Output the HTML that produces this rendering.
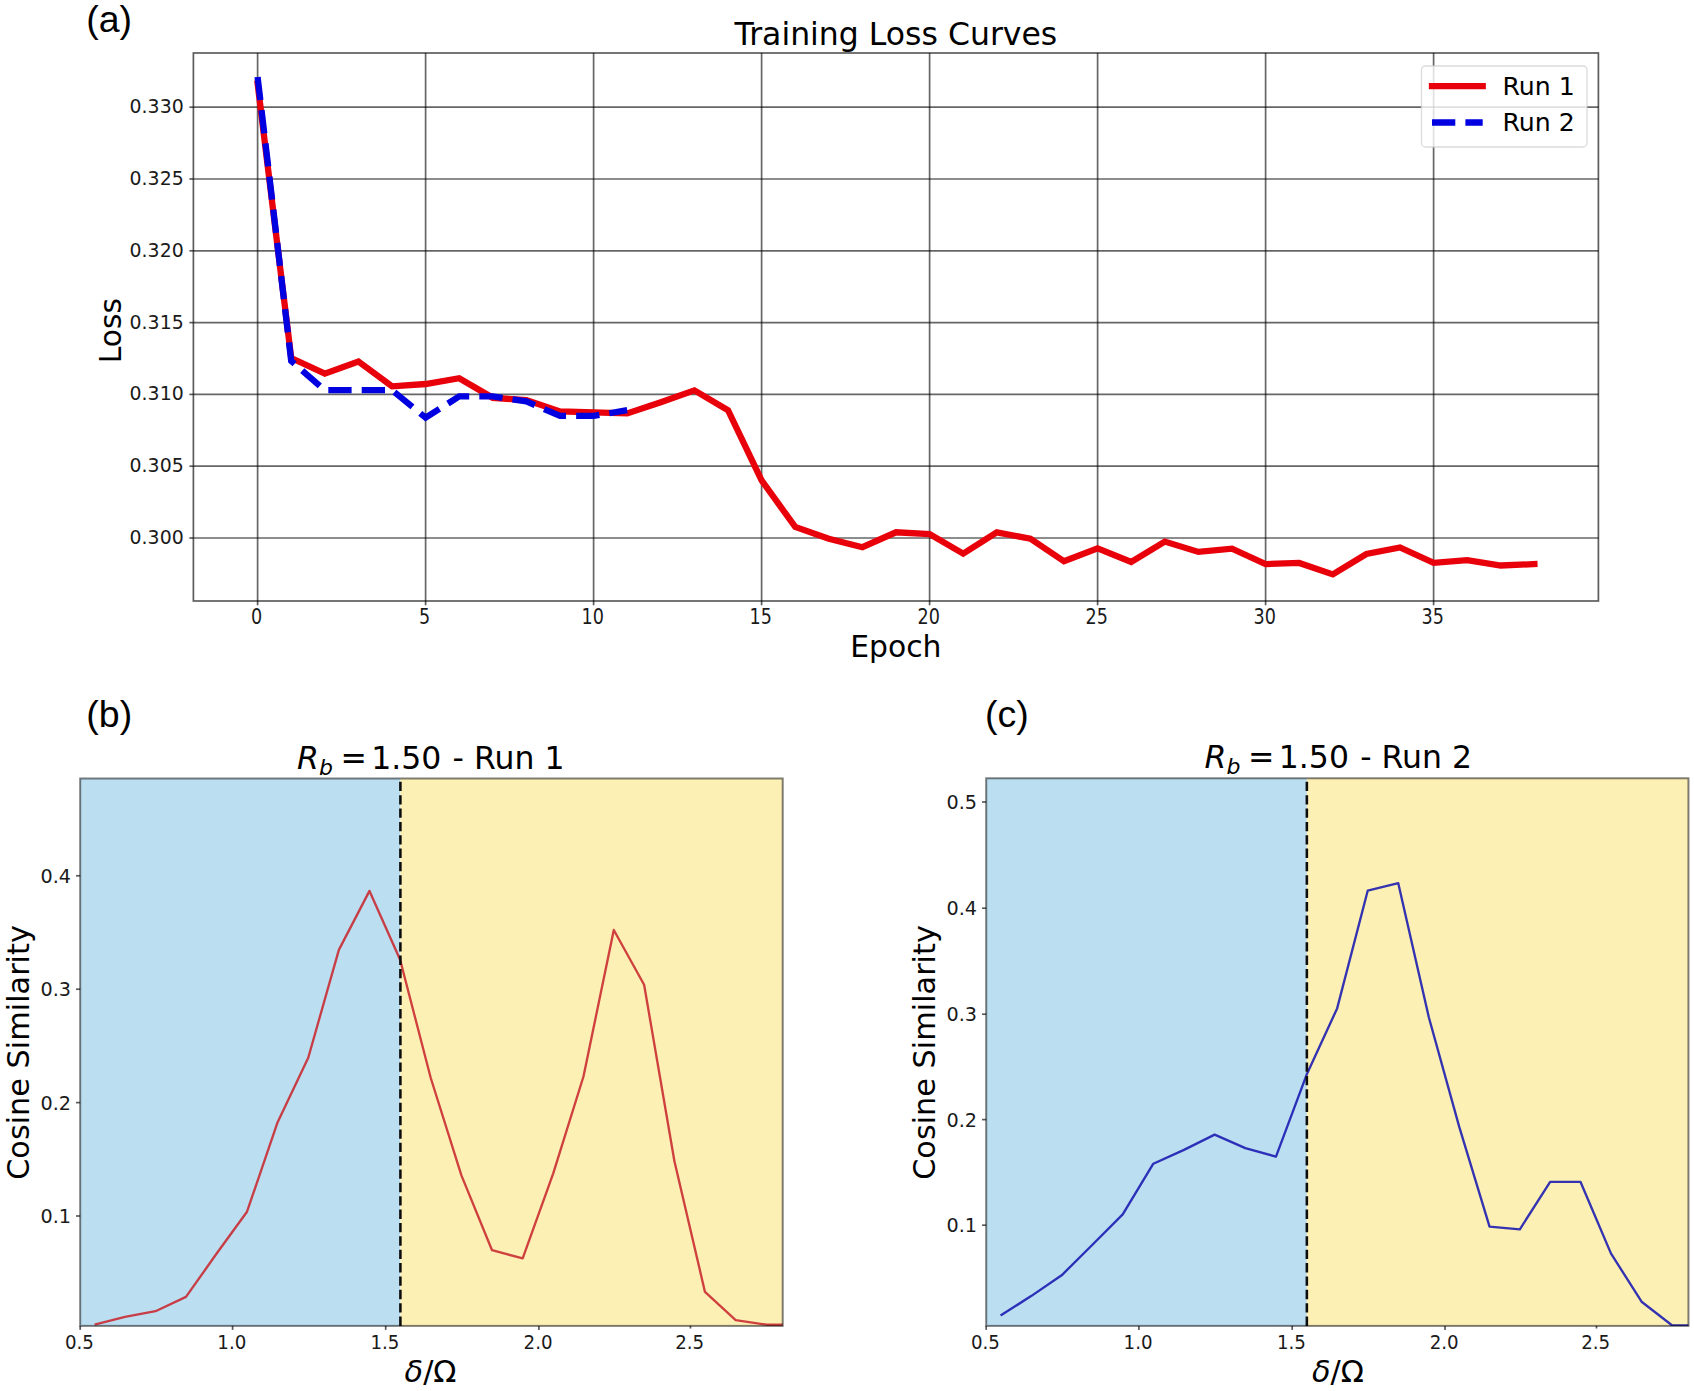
<!DOCTYPE html>
<html lang="en"><head><meta charset="utf-8"><title>Training Loss Curves</title>
<style>
html,body{margin:0;padding:0;background:#fff;}
body{width:1694px;height:1391px;overflow:hidden;}
svg{display:block;}
#fig{width:1694px;height:1391px;}
text{font-family:"DejaVu Sans","Liberation Sans",sans-serif;fill:#000;}
.tk{font-size:18.6px;fill:#1a1a1a;}
.lab{font-size:29.8px;}
.lab2{font-size:30.3px;}
.ttl{font-size:31.5px;}
.pl{font-family:"Liberation Sans","DejaVu Sans",sans-serif;font-size:37.5px;}
.it{font-style:italic;}
</style></head><body><div id="fig">
<svg width="1694" height="1391" viewBox="0 0 1694 1391">
<rect width="1694" height="1391" fill="#fff"/>
<g id="chartA">
<line x1="257.6" y1="53" x2="257.6" y2="601" stroke="#000" stroke-opacity="0.6" stroke-width="1.7"/>
<line x1="257.6" y1="601" x2="257.6" y2="605.3" stroke="#000" stroke-opacity="0.64" stroke-width="1.7"/>
<text class="tk" transform="translate(256.7,624) scale(0.83,1)" style="font-size:21.2px" text-anchor="middle">0</text>
<line x1="425.6" y1="53" x2="425.6" y2="601" stroke="#000" stroke-opacity="0.6" stroke-width="1.7"/>
<line x1="425.6" y1="601" x2="425.6" y2="605.3" stroke="#000" stroke-opacity="0.64" stroke-width="1.7"/>
<text class="tk" transform="translate(424.7,624) scale(0.83,1)" style="font-size:21.2px" text-anchor="middle">5</text>
<line x1="593.6" y1="53" x2="593.6" y2="601" stroke="#000" stroke-opacity="0.6" stroke-width="1.7"/>
<line x1="593.6" y1="601" x2="593.6" y2="605.3" stroke="#000" stroke-opacity="0.64" stroke-width="1.7"/>
<text class="tk" transform="translate(592.7,624) scale(0.83,1)" style="font-size:21.2px" text-anchor="middle">10</text>
<line x1="761.6" y1="53" x2="761.6" y2="601" stroke="#000" stroke-opacity="0.6" stroke-width="1.7"/>
<line x1="761.6" y1="601" x2="761.6" y2="605.3" stroke="#000" stroke-opacity="0.64" stroke-width="1.7"/>
<text class="tk" transform="translate(760.7,624) scale(0.83,1)" style="font-size:21.2px" text-anchor="middle">15</text>
<line x1="929.6" y1="53" x2="929.6" y2="601" stroke="#000" stroke-opacity="0.6" stroke-width="1.7"/>
<line x1="929.6" y1="601" x2="929.6" y2="605.3" stroke="#000" stroke-opacity="0.64" stroke-width="1.7"/>
<text class="tk" transform="translate(928.7,624) scale(0.83,1)" style="font-size:21.2px" text-anchor="middle">20</text>
<line x1="1097.6" y1="53" x2="1097.6" y2="601" stroke="#000" stroke-opacity="0.6" stroke-width="1.7"/>
<line x1="1097.6" y1="601" x2="1097.6" y2="605.3" stroke="#000" stroke-opacity="0.64" stroke-width="1.7"/>
<text class="tk" transform="translate(1096.7,624) scale(0.83,1)" style="font-size:21.2px" text-anchor="middle">25</text>
<line x1="1265.6" y1="53" x2="1265.6" y2="601" stroke="#000" stroke-opacity="0.6" stroke-width="1.7"/>
<line x1="1265.6" y1="601" x2="1265.6" y2="605.3" stroke="#000" stroke-opacity="0.64" stroke-width="1.7"/>
<text class="tk" transform="translate(1264.7,624) scale(0.83,1)" style="font-size:21.2px" text-anchor="middle">30</text>
<line x1="1433.6" y1="53" x2="1433.6" y2="601" stroke="#000" stroke-opacity="0.6" stroke-width="1.7"/>
<line x1="1433.6" y1="601" x2="1433.6" y2="605.3" stroke="#000" stroke-opacity="0.64" stroke-width="1.7"/>
<text class="tk" transform="translate(1432.7,624) scale(0.83,1)" style="font-size:21.2px" text-anchor="middle">35</text>
<line x1="193.4" y1="107.2" x2="1598.4" y2="107.2" stroke="#000" stroke-opacity="0.6" stroke-width="1.7"/>
<line x1="189.4" y1="107.2" x2="193.4" y2="107.2" stroke="#000" stroke-opacity="0.64" stroke-width="1.7"/>
<text class="tk" x="183.7" y="113.2" style="font-size:18.9px" text-anchor="end">0.330</text>
<line x1="193.4" y1="179" x2="1598.4" y2="179" stroke="#000" stroke-opacity="0.6" stroke-width="1.7"/>
<line x1="189.4" y1="179" x2="193.4" y2="179" stroke="#000" stroke-opacity="0.64" stroke-width="1.7"/>
<text class="tk" x="183.7" y="185" style="font-size:18.9px" text-anchor="end">0.325</text>
<line x1="193.4" y1="250.8" x2="1598.4" y2="250.8" stroke="#000" stroke-opacity="0.6" stroke-width="1.7"/>
<line x1="189.4" y1="250.8" x2="193.4" y2="250.8" stroke="#000" stroke-opacity="0.64" stroke-width="1.7"/>
<text class="tk" x="183.7" y="256.8" style="font-size:18.9px" text-anchor="end">0.320</text>
<line x1="193.4" y1="322.6" x2="1598.4" y2="322.6" stroke="#000" stroke-opacity="0.6" stroke-width="1.7"/>
<line x1="189.4" y1="322.6" x2="193.4" y2="322.6" stroke="#000" stroke-opacity="0.64" stroke-width="1.7"/>
<text class="tk" x="183.7" y="328.6" style="font-size:18.9px" text-anchor="end">0.315</text>
<line x1="193.4" y1="394.4" x2="1598.4" y2="394.4" stroke="#000" stroke-opacity="0.6" stroke-width="1.7"/>
<line x1="189.4" y1="394.4" x2="193.4" y2="394.4" stroke="#000" stroke-opacity="0.64" stroke-width="1.7"/>
<text class="tk" x="183.7" y="400.4" style="font-size:18.9px" text-anchor="end">0.310</text>
<line x1="193.4" y1="466.2" x2="1598.4" y2="466.2" stroke="#000" stroke-opacity="0.6" stroke-width="1.7"/>
<line x1="189.4" y1="466.2" x2="193.4" y2="466.2" stroke="#000" stroke-opacity="0.64" stroke-width="1.7"/>
<text class="tk" x="183.7" y="472.2" style="font-size:18.9px" text-anchor="end">0.305</text>
<line x1="193.4" y1="538" x2="1598.4" y2="538" stroke="#000" stroke-opacity="0.6" stroke-width="1.7"/>
<line x1="189.4" y1="538" x2="193.4" y2="538" stroke="#000" stroke-opacity="0.64" stroke-width="1.7"/>
<text class="tk" x="183.7" y="544" style="font-size:18.9px" text-anchor="end">0.300</text>
<polyline points="257.6,83.5 291.2,358 324.8,373.7 358.4,361.5 392,386.3 425.6,384 459.2,378.2 492.8,397.8 526.4,400.1 560,411.4 593.6,412.3 627.2,413.4 660.8,402.2 694.4,390.4 728,410.2 761.6,480.4 795.2,526.9 828.8,538.7 862.4,547.2 896,532.3 929.6,534 963.2,553.6 996.8,532.3 1030.4,538.7 1064,561.3 1097.6,548.3 1131.2,562 1164.8,541.6 1198.4,551.9 1232,548.7 1265.6,564.1 1299.2,562.9 1332.8,574.4 1366.4,554 1400,547.5 1433.6,562.9 1467.2,560.2 1500.8,565.5 1534.4,564.1" fill="none" stroke="#e8000b" stroke-width="6.3" stroke-linejoin="miter" stroke-linecap="square"/>
<polyline points="257.6,77 291.2,361 324.8,390.2 358.4,390.2 392,390.2 425.6,417.7 459.2,396.4 492.8,396.4 526.4,401.4 560,415.9 593.6,415.9 627.2,410.2" fill="none" stroke="#0000e0" stroke-width="6.3" stroke-linejoin="miter" stroke-dasharray="23.3 10.1"/>
<rect x="193.4" y="53" width="1405" height="548" fill="none" stroke="#000" stroke-opacity="0.64" stroke-width="1.7"/>
<rect x="1421.5" y="66" width="165.5" height="81" rx="4" ry="4" fill="#fff" fill-opacity="0.8" stroke="#ccc" stroke-opacity="0.7" stroke-width="1.3"/>
<line x1="1432" y1="86.2" x2="1482.7" y2="86.2" stroke="#e8000b" stroke-width="6.3" stroke-linecap="square"/>
<line x1="1432" y1="122.5" x2="1482.7" y2="122.5" stroke="#0000e0" stroke-width="6.3" stroke-dasharray="23.3 10.1"/>
<text x="1502.5" y="95" style="font-size:25.2px">Run 1</text>
<text x="1502.5" y="131.4" style="font-size:25.2px">Run 2</text>
<text class="ttl" x="895.9" y="45" text-anchor="middle">Training Loss Curves</text>
<text class="lab" x="895.8" y="656.5" text-anchor="middle">Epoch</text>
<text class="lab" transform="translate(121.4,330.6) rotate(-90)" text-anchor="middle">Loss</text>
<text class="pl" x="86.2" y="31.8">(a)</text>
</g>
<g id="chartB">
<rect x="80.2" y="778.5" width="320.2" height="547.4" fill="#bbdef1"/>
<rect x="400.4" y="778.5" width="382.3" height="547.4" fill="#fdf0b5"/>
<clipPath id="clchartB"><rect x="80.2" y="778.5" width="702.5" height="547.4"/></clipPath>
<polyline clip-path="url(#clchartB)" points="94.54,1324.6 125.02,1316.9 155.5,1311.2 185.98,1296.9 216.46,1253.8 247.01,1211.7 277.63,1122.2 308.25,1057.7 338.87,949.9 369.49,890.9 400.12,959.8 430.76,1078 461.4,1175.4 492.04,1250.2 522.68,1258.3 553.16,1173.6 583.48,1076.5 613.8,930 644.12,984.7 674.44,1161.3 704.97,1291.9 735.7,1320.1 766.43,1324.7 785.7,1324.7" fill="none" stroke="#c8282f" stroke-width="2.35" stroke-opacity="0.88" stroke-linejoin="round"/>
<line x1="400.4" y1="1325.9" x2="400.4" y2="778.5" stroke="#0c0c0c" stroke-width="2.55" stroke-dasharray="9.33 4.04"/>
<rect x="80.2" y="778.5" width="702.5" height="547.4" fill="none" stroke="#000" stroke-opacity="0.5" stroke-width="2"/>
<line x1="80.2" y1="1325.9" x2="80.2" y2="1329.9" stroke="#000" stroke-opacity="0.64" stroke-width="1.7"/>
<text class="tk" transform="translate(79.4,1349.4) scale(0.93,1)" style="font-size:19.6px" text-anchor="middle">0.5</text>
<line x1="232.6" y1="1325.9" x2="232.6" y2="1329.9" stroke="#000" stroke-opacity="0.64" stroke-width="1.7"/>
<text class="tk" transform="translate(231.8,1349.4) scale(0.93,1)" style="font-size:19.6px" text-anchor="middle">1.0</text>
<line x1="385.7" y1="1325.9" x2="385.7" y2="1329.9" stroke="#000" stroke-opacity="0.64" stroke-width="1.7"/>
<text class="tk" transform="translate(384.9,1349.4) scale(0.93,1)" style="font-size:19.6px" text-anchor="middle">1.5</text>
<line x1="538.9" y1="1325.9" x2="538.9" y2="1329.9" stroke="#000" stroke-opacity="0.64" stroke-width="1.7"/>
<text class="tk" transform="translate(538.1,1349.4) scale(0.93,1)" style="font-size:19.6px" text-anchor="middle">2.0</text>
<line x1="690.5" y1="1325.9" x2="690.5" y2="1328.5" stroke="#000" stroke-opacity="0.64" stroke-width="1.7"/>
<text class="tk" transform="translate(689.7,1349.4) scale(0.93,1)" style="font-size:19.6px" text-anchor="middle">2.5</text>
<line x1="76" y1="1216" x2="80.2" y2="1216" stroke="#000" stroke-opacity="0.64" stroke-width="1.7"/>
<text class="tk" x="71" y="1223.2" style="font-size:19.2px" text-anchor="end">0.1</text>
<line x1="76" y1="1102.6" x2="80.2" y2="1102.6" stroke="#000" stroke-opacity="0.64" stroke-width="1.7"/>
<text class="tk" x="71" y="1109.8" style="font-size:19.2px" text-anchor="end">0.2</text>
<line x1="76" y1="989.2" x2="80.2" y2="989.2" stroke="#000" stroke-opacity="0.64" stroke-width="1.7"/>
<text class="tk" x="71" y="996.4" style="font-size:19.2px" text-anchor="end">0.3</text>
<line x1="76" y1="875.8" x2="80.2" y2="875.8" stroke="#000" stroke-opacity="0.64" stroke-width="1.7"/>
<text class="tk" x="71" y="883" style="font-size:19.2px" text-anchor="end">0.4</text>
<text class="ttl" y="768.5"><tspan class="it" x="297">R</tspan><tspan class="it" dy="6" style="font-size:22px">b</tspan><tspan dy="-6" x="340.4">=</tspan><tspan x="371.2">1.50</tspan><tspan x="452.6">- Run 1</tspan></text>
<text class="lab2" x="430.55" y="1382" text-anchor="middle"><tspan class="it">δ</tspan>/Ω</text>
<text class="lab2" transform="translate(28.9,1052.5) rotate(-90)" text-anchor="middle">Cosine Similarity</text>
<text class="pl" x="86.3" y="727">(b)</text>
</g>
<g id="chartC">
<rect x="986.2" y="778.3" width="320.65" height="547.6" fill="#bbdef1"/>
<rect x="1306.85" y="778.3" width="381.6" height="547.6" fill="#fdf0b5"/>
<clipPath id="clchartC"><rect x="986.2" y="778.3" width="702.25" height="547.6"/></clipPath>
<polyline clip-path="url(#clchartC)" points="1000.57,1315.6 1031.11,1296.1 1061.65,1275.3 1092.19,1245 1122.73,1214.3 1153.33,1163.7 1183.99,1149.9 1214.65,1134.6 1245.31,1148.1 1275.97,1156.7 1306.58,1074.8 1337.14,1008.4 1367.7,890.7 1398.26,883.2 1428.82,1017.2 1459.25,1126.9 1489.55,1226.6 1519.85,1229.3 1550.15,1181.8 1580.45,1181.8 1610.92,1253.4 1641.58,1301.7 1672.22,1325.5 1691.45,1325.5" fill="none" stroke="#1818b0" stroke-width="2.35" stroke-opacity="0.88" stroke-linejoin="round"/>
<line x1="1306.85" y1="1325.9" x2="1306.85" y2="778.3" stroke="#0c0c0c" stroke-width="2.55" stroke-dasharray="9.33 4.04"/>
<rect x="986.2" y="778.3" width="702.25" height="547.6" fill="none" stroke="#000" stroke-opacity="0.5" stroke-width="2"/>
<line x1="986.2" y1="1325.9" x2="986.2" y2="1329.9" stroke="#000" stroke-opacity="0.64" stroke-width="1.7"/>
<text class="tk" transform="translate(985.4,1349.4) scale(0.93,1)" style="font-size:19.6px" text-anchor="middle">0.5</text>
<line x1="1138.9" y1="1325.9" x2="1138.9" y2="1329.9" stroke="#000" stroke-opacity="0.64" stroke-width="1.7"/>
<text class="tk" transform="translate(1138.1,1349.4) scale(0.93,1)" style="font-size:19.6px" text-anchor="middle">1.0</text>
<line x1="1292.2" y1="1325.9" x2="1292.2" y2="1329.9" stroke="#000" stroke-opacity="0.64" stroke-width="1.7"/>
<text class="tk" transform="translate(1291.4,1349.4) scale(0.93,1)" style="font-size:19.6px" text-anchor="middle">1.5</text>
<line x1="1445" y1="1325.9" x2="1445" y2="1329.9" stroke="#000" stroke-opacity="0.64" stroke-width="1.7"/>
<text class="tk" transform="translate(1444.2,1349.4) scale(0.93,1)" style="font-size:19.6px" text-anchor="middle">2.0</text>
<line x1="1596.5" y1="1325.9" x2="1596.5" y2="1328.5" stroke="#000" stroke-opacity="0.64" stroke-width="1.7"/>
<text class="tk" transform="translate(1595.7,1349.4) scale(0.93,1)" style="font-size:19.6px" text-anchor="middle">2.5</text>
<line x1="982" y1="1225.2" x2="986.2" y2="1225.2" stroke="#000" stroke-opacity="0.64" stroke-width="1.7"/>
<text class="tk" x="977" y="1232.4" style="font-size:19.2px" text-anchor="end">0.1</text>
<line x1="982" y1="1119.6" x2="986.2" y2="1119.6" stroke="#000" stroke-opacity="0.64" stroke-width="1.7"/>
<text class="tk" x="977" y="1126.8" style="font-size:19.2px" text-anchor="end">0.2</text>
<line x1="982" y1="1014.2" x2="986.2" y2="1014.2" stroke="#000" stroke-opacity="0.64" stroke-width="1.7"/>
<text class="tk" x="977" y="1021.4" style="font-size:19.2px" text-anchor="end">0.3</text>
<line x1="982" y1="908.2" x2="986.2" y2="908.2" stroke="#000" stroke-opacity="0.64" stroke-width="1.7"/>
<text class="tk" x="977" y="915.4" style="font-size:19.2px" text-anchor="end">0.4</text>
<line x1="982" y1="802" x2="986.2" y2="802" stroke="#000" stroke-opacity="0.64" stroke-width="1.7"/>
<text class="tk" x="977" y="809.2" style="font-size:19.2px" text-anchor="end">0.5</text>
<text class="ttl" y="768.3"><tspan class="it" x="1204.6">R</tspan><tspan class="it" dy="6" style="font-size:22px">b</tspan><tspan dy="-6" x="1248">=</tspan><tspan x="1278.8">1.50</tspan><tspan x="1360.2">- Run 2</tspan></text>
<text class="lab2" x="1338.02" y="1382" text-anchor="middle"><tspan class="it">δ</tspan>/Ω</text>
<text class="lab2" transform="translate(934.9,1052.5) rotate(-90)" text-anchor="middle">Cosine Similarity</text>
<text class="pl" x="985" y="727">(c)</text>
</g>
</svg></div></body></html>
